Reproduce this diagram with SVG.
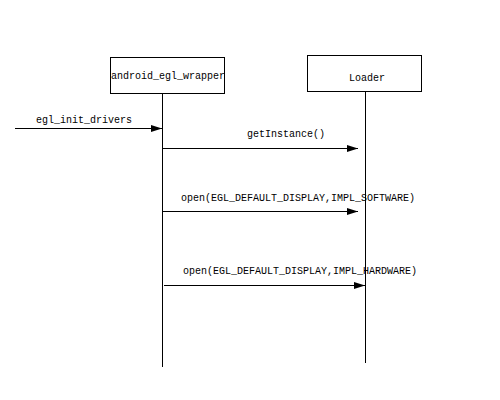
<svg xmlns="http://www.w3.org/2000/svg" width="500" height="400" viewBox="0 0 500 400">
<defs>
<style>
.box{fill:#fff;stroke:#000;stroke-width:1}
.ln{stroke:#000;stroke-width:1;fill:none}
text{font-family:"Liberation Mono","Noto Sans CJK SC",monospace;font-size:10px;fill:#000}
</style>
<marker id="ah" markerWidth="11" markerHeight="8" refX="11" refY="4" orient="auto" markerUnits="userSpaceOnUse">
<path d="M0,0.5 L11,4 L0,7.5 Z" fill="#000"/>
</marker>
</defs>
<rect width="500" height="400" fill="#fff"/>
<g id="wrapper">
<rect class="box" x="110.5" y="57.5" width="114" height="36"/>
<text x="168" y="79" text-anchor="middle">android_egl_wrapper</text>
<line class="ln" x1="162.5" y1="93.5" x2="162.5" y2="367"/>
</g>
<g id="loader">
<rect class="box" x="307.5" y="55.5" width="114" height="36"/>
<text x="367" y="81" text-anchor="middle">Loader</text>
<line class="ln" x1="365.5" y1="91.5" x2="365.5" y2="363"/>
</g>
<g id="connectors">
<line class="ln" x1="15" y1="128.5" x2="162" y2="128.5" marker-end="url(#ah)"/>
<text x="84" y="123" text-anchor="middle">egl_init_drivers</text>
<line class="ln" x1="162" y1="148.5" x2="358" y2="148.5" marker-end="url(#ah)"/>
<text x="286" y="137" text-anchor="middle">getInstance()</text>
<line class="ln" x1="162" y1="211.5" x2="358" y2="211.5" marker-end="url(#ah)"/>
<text x="298" y="201" text-anchor="middle">open(EGL_DEFAULT_DISPLAY,IMPL_SOFTWARE)</text>
<line class="ln" x1="164" y1="285.5" x2="365" y2="285.5" marker-end="url(#ah)"/>
<text x="300" y="274" text-anchor="middle">open(EGL_DEFAULT_DISPLAY,IMPL_HARDWARE)</text>
</g>
</svg>
